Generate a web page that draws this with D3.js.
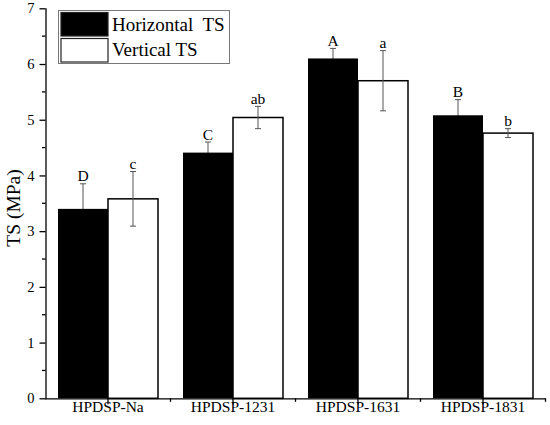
<!DOCTYPE html>
<html>
<head>
<meta charset="utf-8">
<script src="https://cdn.jsdelivr.net/npm/d3@7"></script>
<style>
  body { margin: 0; background: #fff; }
  svg { display: block; font-family: "Liberation Serif", "Times New Roman", serif; }
  text { white-space: pre; }
</style>
</head>
<body>
<svg id="chart" width="550" height="425"></svg>
<script>
// 数据
const categories = ["HPDSP-Na", "HPDSP-1231", "HPDSP-1631", "HPDSP-1831"];
const seriesNames = ["Horizontal  TS", "Vertical TS"];
const horizontalTS = [3.40, 4.41, 6.10, 5.08];
const horizontalErr = [0.45, 0.19, 0.18, 0.28];
const horizontalLetters = ["D", "C", "A", "B"];
const verticalTS = [3.58, 5.04, 5.70, 4.76];
const verticalErr = [0.49, 0.20, 0.54, 0.08];
const verticalLetters = ["c", "ab", "a", "b"];
const yTicks = [0, 1, 2, 3, 4, 5, 6, 7];

const svg = d3.select("#chart");
const mLeft = 45.5, mRight = 545.5, mBottom = 398.3, mTop = 8.3;

const rows = [];
categories.forEach((c, i) => {
  rows.push({ cat: c, s: 0, v: horizontalTS[i], e: horizontalErr[i], lab: horizontalLetters[i] });
  rows.push({ cat: c, s: 1, v: verticalTS[i], e: verticalErr[i], lab: verticalLetters[i] });
});

const x = d3.scaleBand().domain(categories).range([mLeft, mRight])
  .paddingInner(0.2).paddingOuter(0.1);
const xs = d3.scaleBand().domain([0, 1]).range([0, x.bandwidth()]);
const y = d3.scaleLinear().domain([0, 7]).range([mBottom, mTop]);
const fills = ["#000", "#fff"];

// 误差线
function drawErr(g, data) {
  const eg = g.selectAll("g.err").data(data).enter().append("g")
    .attr("class", "err")
    .attr("transform", d => `translate(${x(d.cat) + xs(d.s) + xs.bandwidth() / 2},0)`)
    .attr("stroke", "#555").attr("stroke-width", 1);
  eg.append("line").attr("y1", d => y(d.v - d.e)).attr("y2", d => y(d.v + d.e));
  eg.append("line").attr("x1", -3).attr("x2", 3).attr("y1", d => y(d.v + d.e)).attr("y2", d => y(d.v + d.e));
  eg.append("line").attr("x1", -3).attr("x2", 3).attr("y1", d => y(d.v - d.e)).attr("y2", d => y(d.v - d.e));
}

drawErr(svg.append("g"), rows.filter(d => d.s === 0));

// 柱
svg.append("g").selectAll("rect").data(rows).enter().append("rect")
  .attr("x", d => x(d.cat) + xs(d.s))
  .attr("y", d => y(d.v))
  .attr("width", xs.bandwidth())
  .attr("height", d => y(0) - y(d.v))
  .attr("fill", d => fills[d.s])
  .attr("stroke", "#000")
  .attr("stroke-width", d => d.s === 1 ? 1.5 : 0);

drawErr(svg.append("g"), rows.filter(d => d.s === 1));

// 字母标注
svg.append("g").selectAll("text").data(rows).enter().append("text")
  .attr("x", d => x(d.cat) + xs(d.s) + xs.bandwidth() / 2)
  .attr("y", d => y(d.v + d.e) - 2.5)
  .attr("text-anchor", "middle")
  .attr("font-size", 15.5)
  .text(d => d.lab);

// X 轴
const xAxis = svg.append("g")
  .attr("transform", `translate(0,${mBottom})`)
  .call(d3.axisBottom(x).tickSize(6).tickSizeOuter(0));
xAxis.select(".domain").attr("d", `M${mLeft - 0.5},0.5H${mRight + 0.5}`).attr("stroke-width", 1.3);
xAxis.selectAll(".tick line").attr("stroke-width", 1.3);
xAxis.selectAll(".tick text").attr("y", 13.5).attr("dy", 0)
  .attr("font-size", 15.5).attr("font-family", "Liberation Serif, serif");
const bounds = categories.map(c => x(c) + x.bandwidth() / 2 + x.step() / 2);
xAxis.selectAll("line.minor").data(bounds).enter().append("line")
  .attr("class", "minor").attr("x1", d => d).attr("x2", d => d)
  .attr("y1", 0).attr("y2", 3.5).attr("stroke", "#000").attr("stroke-width", 1.3);

// Y 轴
const yAxis = svg.append("g")
  .attr("transform", `translate(${mLeft},0)`)
  .call(d3.axisLeft(y).tickValues(yTicks).tickSize(6).tickSizeOuter(0).tickFormat(d3.format("d")));
yAxis.select(".domain").attr("d", `M0.5,${mTop}V${mBottom + 0.5}`).attr("stroke-width", 1.3);
yAxis.selectAll(".tick line").attr("stroke-width", 1.3);
yAxis.selectAll(".tick text").attr("x", -11).attr("font-size", 14.5)
  .attr("font-family", "Liberation Serif, serif");
const minorY = d3.range(0.5, 7, 1);
yAxis.selectAll("line.minor").data(minorY).enter().append("line")
  .attr("class", "minor").attr("x1", -3.5).attr("x2", 0)
  .attr("y1", d => y(d)).attr("y2", d => y(d))
  .attr("stroke", "#000").attr("stroke-width", 1.3);

svg.append("text")
  .attr("transform", `translate(20,208) rotate(-90)`)
  .attr("text-anchor", "middle")
  .attr("font-size", 19.5)
  .text("TS (MPa)");

// 图例
const lg = svg.append("g");
lg.append("rect").attr("x", 58.5).attr("y", 10.5).attr("width", 171).attr("height", 53)
  .attr("fill", "#fff").attr("stroke", "#777").attr("stroke-width", 1);
seriesNames.forEach((name, i) => {
  lg.append("rect").attr("x", 61).attr("y", 12.5 + i * 26).attr("width", 47).attr("height", 23.5)
    .attr("fill", fills[i]).attr("stroke", "#222").attr("stroke-width", 1.2);
  lg.append("text").attr("x", 112).attr("y", 31 + i * 25).attr("font-size", 19).text(name);
});
</script>
</body>
</html>
